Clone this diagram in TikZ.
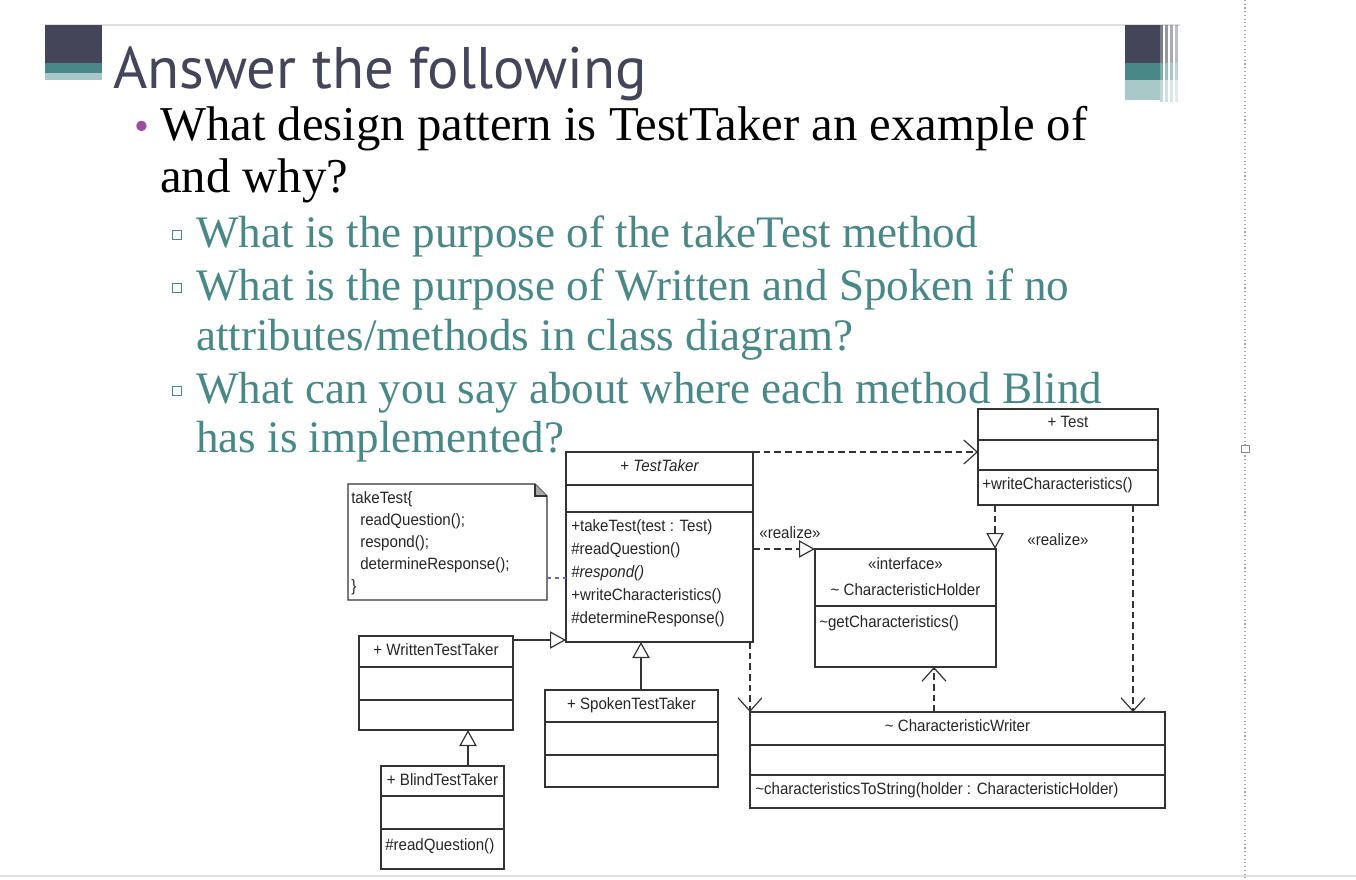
\documentclass[tikz,border=0pt]{standalone}
\usepackage{fontspec}
\setmainfont{Liberation Serif}
\newfontfamily\uml[FakeStretch=0.92]{Liberation Sans}
\newfontfamily\ttl{PT Sans}
\usetikzlibrary{arrows.meta}
\definecolor{slate}{HTML}{45455A}
\definecolor{tealc}{HTML}{4A8787}
\definecolor{teallt}{HTML}{A9C9C9}
\definecolor{purp}{HTML}{9B4FA0}
\tikzset{
  box/.style={draw=black!80, line width=0.9pt},
  lab/.style={font=\uml\fontsize{12.3}{14}\selectfont, inner sep=0pt, text=black!85},
  gen/.style={draw=black!80, line width=0.9pt, -{Triangle[open, length=12pt, width=13pt]}},
  real/.style={draw=black!80, line width=0.9pt, dash pattern=on 5pt off 3pt, -{Triangle[open, length=12pt, width=13pt]}},
  dep/.style={draw=black!80, line width=0.9pt, dash pattern=on 5pt off 3pt, -{Straight Barb[length=10pt, width=18pt]}},
  sub/.style={font=\fontsize{33.8}{36}\selectfont, text=tealc, anchor=base west, inner sep=0pt},
  sq/.style={draw=tealc, line width=0.8pt, minimum size=7pt, inner sep=0pt},
}
\begin{document}
\begin{tikzpicture}[x=0.75pt,y=-0.75pt]
\useasboundingbox (0,0) rectangle (1356,879);
\fill[white] (0,0) rectangle (1356,879);
% frame lines
\draw[black!12, line width=1.5pt] (45,25) -- (1180,25);
\draw[black!12, line width=1.5pt] (0,876) -- (1356,876);
\draw[black!35, dotted, line width=0.8pt] (1245,0) -- (1245,879);
\draw[black!45, fill=white] (1241,445) rectangle (1249,452);
% left decoration
\fill[slate] (45,25) rectangle (102,63);
\fill[tealc] (45,63) rectangle (102,73);
\fill[teallt] (45,73) rectangle (102,80);
% right decoration
\fill[slate] (1125,25) rectangle (1160,63);
\fill[tealc] (1125,63) rectangle (1160,80);
\fill[teallt] (1125,80) rectangle (1160,100);
\foreach \x/\o in {1160/0.7,1165/0.55,1170/0.45,1175/0.35}{
  \fill[slate, opacity=\o] (\x,25) rectangle (\x+3,63);
  \fill[tealc, opacity=\o] (\x,63) rectangle (\x+3,80);
  \fill[teallt, opacity=\o] (\x,80) rectangle (\x+3,102);
}
% title and text
\node[anchor=base west, inner sep=0pt, text=slate, font=\ttl\fontsize{44}{48}\selectfont] (title) at (113,88) {Answer the following};
\node[anchor=base, inner sep=0pt, text=purp, font=\fontsize{32}{32}\selectfont] (b1) at (142,140) {•};
\node[anchor=base west, inner sep=0pt, font=\fontsize{36.5}{40}\selectfont] (t1) at (160,140) {What design pattern is TestTaker an example of};
\node[anchor=base west, inner sep=0pt, font=\fontsize{36.5}{40}\selectfont] (t2) at (160,192) {and why?};
\node[sq] (s1) at (177,235) {};
\node[sq] (s2) at (177,288) {};
\node[sq] (s3) at (177,391) {};
\node[sub] (u1) at (196,247) {What is the purpose of the takeTest method};
\node[sub] (u2) at (196,300) {What is the purpose of Written and Spoken if no};
\node[sub] (u3) at (196,350) {attributes/methods in class diagram?};
\node[sub] (u4) at (196,403) {What can you say about where each method Blind};
\node[sub] (u5) at (196,452) {has is implemented?};
% TestTaker
\draw[box, fill=white] (566,452) rectangle (753,642);
\draw[box] (566,485) -- (753,485) (566,512) -- (753,512);
\node[lab] (tt) at (659.5,466) {+ \itshape TestTaker};
\node[lab, anchor=west] at (571,527) {+takeTest(test : Test)};
\node[lab, anchor=west] at (571,550) {\#readQuestion()};
\node[lab, anchor=west] at (571,573) {\itshape\#respond()};
\node[lab, anchor=west] at (571,596) {+writeCharacteristics()};
\node[lab, anchor=west] at (571,619) {\#determineResponse()};
\coordinate (ttTR) at (753,452);
\coordinate (ttR) at (753,549);
\coordinate (ttBR) at (750,642);
\coordinate (ttL) at (566,640);
\coordinate (ttB) at (641,642);
\coordinate (ttN) at (566,578);
% Note
\draw[box, fill=white] (348,484) -- (535,484) -- (547,496) -- (547,600) -- (348,600) -- cycle;
\fill[black!35] (535,484) -- (547,496) -- (535,496) -- cycle;
\draw[box] (535,484) -- (535,496) -- (547,496);
\coordinate (noteR) at (547,578);
\node[lab, anchor=west] (n1) at (351,499) {takeTest\{};
\node[lab, anchor=west] at (360,521) {readQuestion();};
\node[lab, anchor=west] at (360,543) {respond();};
\node[lab, anchor=west] at (360,565) {determineResponse();};
\node[lab, anchor=west] at (351,587) {\}};
\draw[blue!60!black!60, dashed, line width=0.8pt] (noteR) -- (ttN);
% WrittenTestTaker
\draw[box, fill=white] (359,636) rectangle (513,730);
\draw[box] (359,667) -- (513,667) (359,700) -- (513,700);
\node[lab] (wtt) at (436,650) {+ WrittenTestTaker};
\draw[gen] (513,640) -- (ttL);
% BlindTestTaker
\draw[box, fill=white] (381,766) rectangle (504,869);
\draw[box] (381,796) -- (504,796) (381,829) -- (504,829);
\node[lab] (btt) at (442.5,780) {+ BlindTestTaker};
\node[lab, anchor=west] at (385,846) {\#readQuestion()};
\draw[gen] (468,766) -- (468,730);
% SpokenTestTaker
\draw[box, fill=white] (545,690) rectangle (718,787);
\draw[box] (545,722) -- (718,722) (545,755) -- (718,755);
\node[lab] (stt) at (631.5,705) {+ SpokenTestTaker};
\draw[gen] (641,690) -- (ttB);
% Test
\draw[box, fill=white] (978,409) rectangle (1158,505);
\draw[box] (978,440) -- (1158,440) (978,470) -- (1158,470);
\node[lab] (test) at (1068,422) {+ Test};
\node[lab, anchor=west] at (982,485) {+writeCharacteristics()};
\draw[dep] (ttTR) -- (978,452);
% CharacteristicHolder
\draw[box, fill=white] (815,549) rectangle (996,667);
\draw[box] (815,606) -- (996,606);
\node[lab] (ch0) at (905.5,564) {«interface»};
\node[lab] (ch) at (905.5,590) {\textasciitilde\ CharacteristicHolder};
\node[lab, anchor=west] at (819,623) {\textasciitilde getCharacteristics()};
\draw[real] (ttR) -- (815,549);
\node[lab] (r1) at (790,533) {«realize»};
\draw[real] (995,505) -- (995,549);
\node[lab] (r2) at (1058,540) {«realize»};
% CharacteristicWriter
\draw[box, fill=white] (750,712) rectangle (1165,808);
\draw[box] (750,745) -- (1165,745) (750,775) -- (1165,775);
\node[lab] (cw) at (957.5,726) {\textasciitilde\ CharacteristicWriter};
\node[lab, anchor=west] at (755,790) {\textasciitilde characteristicsToString(holder : CharacteristicHolder)};
\draw[dep] (ttBR) -- (750,712);
\draw[dep] (1133,505) -- (1133,712);
\draw[dep] (934,712) -- (934,667);
\end{tikzpicture}
\end{document}
